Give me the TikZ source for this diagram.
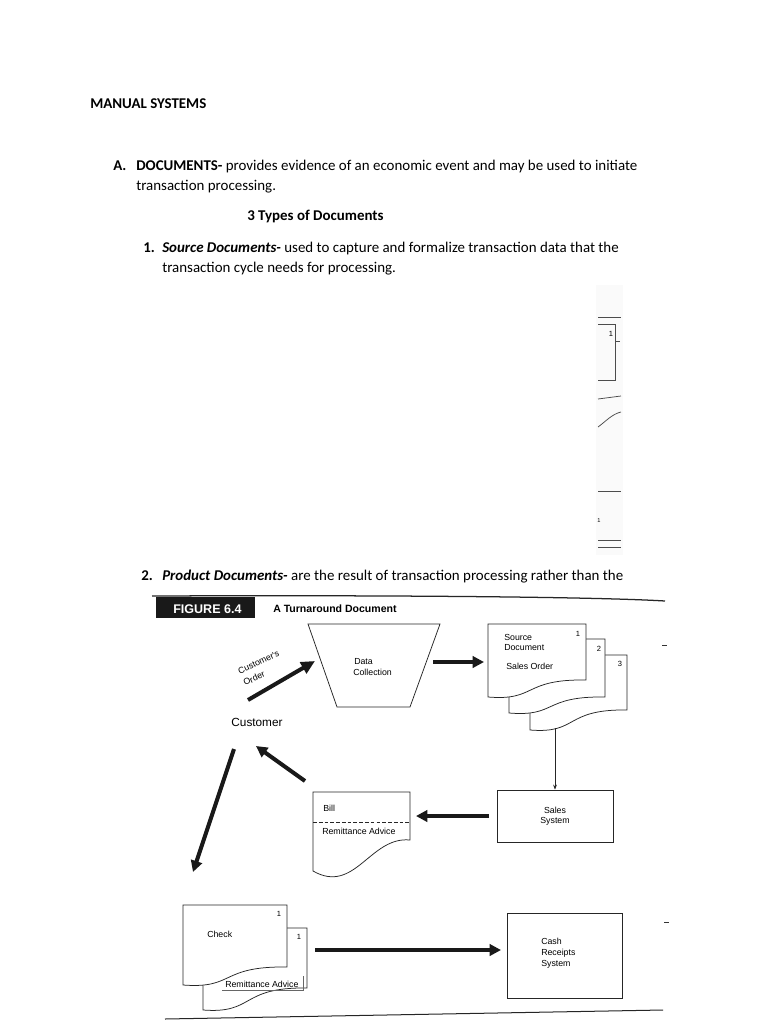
\documentclass[tikz,border=0pt]{standalone}
\usepackage{fontspec}
\setmainfont{Carlito}
\newfontfamily\figfont{Liberation Sans}
\usetikzlibrary{arrows.meta}
\newdimen\pxu \pxu=0.796875pt
% x y w hl hr : document shape with wavy bottom
\newcommand{\mydocshape}[5]{%
  \draw[docline] (#1,{#2+#4}) -- (#1,#2) -- ({#1+#3},#2) -- ({#1+#3},{#2+#5})
    .. controls ({#1+0.35*#3},{#2+#5-1}) and ({#1+0.5*#3},{#2+#4+4}) .. (#1,{#2+#4}) -- cycle;}
\begin{document}
\begin{tikzpicture}[x=0.796875pt,y=-0.796875pt,
  body/.style={anchor=base west, inner sep=0, font=\fontsize{11.9}{14}\selectfont},
  fig/.style={inner sep=0, anchor=base west, font=\figfont\fontsize{7}{8.8}\selectfont},
  fignum/.style={inner sep=0, anchor=base, font=\figfont\fontsize{6}{7}\selectfont},
  docline/.style={draw=black!85, line width=0.6pt, fill=white},
  fat/.style={draw=black!90, line width=3.2pt, -{Triangle[length=9pt,width=9pt]}},
  thinarrow/.style={draw=black!85, line width=0.5pt, -{Stealth[length=4pt,width=3pt]}},
  frag/.style={draw=black!70, line width=0.6pt},
  sysbox/.style={draw=black!85, line width=0.6pt, inner sep=0},
]
\fill[white] (0,0) rectangle (768,1024);
\useasboundingbox (0,0) rectangle (768,1024);

% ---- body text ----
\node[body] (ms) at (90,108) {\textbf{MANUAL SYSTEMS}};
\node[body] (aa) at (113,170.5) {\textbf{A.}};
\node[body] (adoc) at (136,170.5) {\textbf{DOCUMENTS-} provides evidence of an economic event and may be used to initiate};
\node[body] (adoc2) at (136,190) {transaction processing.};
\node[body] (types) at (247,220.5) {\textbf{3 Types of Documents}};
\node[body] (n1) at (143,252) {\textbf{1.}};
\node[body] (src) at (162,252) {\textbf{\itshape Source Documents-} used to capture and formalize transaction data that the};
\node[body] (src2) at (162,272) {transaction cycle needs for processing.};
\node[body] (n2) at (141,580) {\textbf{2.}};
\node[body] (prod) at (162,580) {\textbf{\itshape Product Documents-} are the result of transaction processing rather than the};

% ---- right edge fragments ----
\fill[black!2] (596,285) rectangle (623,555);
\draw[frag] (598,317.5) -- (621,317.5);
\draw[frag] (598,324) -- (615,324) -- (615,380) -- (598,380);
\draw[frag] (615,341) -- (620,341);
\node[fignum] (fr1) at (611,336) {1};
\draw[frag] (598,399) -- (621,396);
\draw[frag] (598,427) .. controls (605,422) and (612,414) .. (621,412);
\draw[frag] (598,491) -- (621,491);
\node[fignum, font=\figfont\fontsize{4.5}{5}\selectfont] (fr2) at (599,522) {1};
\draw[frag] (598,540) -- (621,540);
\draw[frag] (598,547) -- (621,547);

% ---- figure header ----
\draw[black!85, line width=1pt] (152,596) .. controls (400,595) and (600,597) .. (665,601);
\node[fill=black!90, minimum width=99\pxu, minimum height=21\pxu, anchor=north west, inner sep=0] (figbox) at (156,597) {};
\node[anchor=base west, inner sep=0, text=white, font=\figfont\bfseries\fontsize{10}{12}\selectfont] (figlbl) at (173,613) {FIGURE 6.4};
\node[anchor=base west, inner sep=0, font=\figfont\bfseries\fontsize{8.4}{10}\selectfont] (figttl) at (273,612) {A Turnaround Document};

% ---- data collection ----
\draw[docline] (308,624) -- (440,624) -- (410,707) -- (337,707) -- cycle;
\node[fig] (dc1) at (354,664) {Data};
\node[fig] (dc2) at (353,675) {Collection};

% customer's order
\coordinate (coT) at (248,700);
\coordinate (coH) at (315,661);
\draw[fat, -{Triangle[length=11pt,width=10pt]}] (coT) -- (coH);
\node[fig, rotate=25, align=left, font=\figfont\fontsize{7}{10}\selectfont] (colbl) at (245,686) {Customer's\\Order};

\node[anchor=base, inner sep=0, font=\figfont\fontsize{9.4}{11}\selectfont] (cust) at (257,726.5) {Customer};

% arrow to source document
\coordinate (dcR) at (433,662);
\coordinate (sdL) at (484,662);
\draw[fat] (dcR) -- (sdL);

% source document stack
\mydocshape{530}{655}{97}{75}{55}
\mydocshape{509}{639}{96}{74}{58}
\mydocshape{488}{624}{98}{73}{56}
\node[fig] (sdtxt1) at (504,640.5) {Source};
\node[fig] (sdtxt2) at (504,650.5) {Document};
\node[fig] (sotxt) at (506,669.5) {Sales Order};
\node[fignum] (sd1) at (578,636.5) {1};
\node[fignum] (sd2) at (599,651.5) {2};
\node[fignum] (sd3) at (620,666.5) {3};

% sales system
\node[sysbox, minimum width=116\pxu, minimum height=52\pxu] (sales) at (555,816) {};
\node[fig, anchor=base] (salestxt1) at (555,813) {Sales};
\node[fig, anchor=base] (salestxt2) at (555,823.5) {System};
\coordinate (sdB) at (555,728);
\draw[thinarrow] (sdB) -- (sales.north);

% sales -> bill
\coordinate (saT) at (489,816);
\coordinate (biH) at (416,816);
\draw[fat] (saT) -- (biH);

% bill
\draw[docline] (313,871) -- (313,792) -- (410,792) -- (410,840)
  .. controls (370,836) and (355,895) .. (313,871) -- cycle;
\draw[black!85, line width=0.6pt, dash pattern=on 3pt off 1.6pt] (313,822) -- (410,822);
\node[fig] (billtxt) at (323,811) {Bill};
\node[fig] (remtxt) at (322,834) {Remittance Advice};

% bill -> customer, customer -> check
\coordinate (bcT) at (305,781);
\coordinate (bcH) at (256,746);
\draw[fat] (bcT) -- (bcH);
\coordinate (ccT) at (234,749);
\coordinate (ccH) at (193,872);
\draw[fat] (ccT) -- (ccH);

% check documents
\mydocshape{203}{928}{104}{82}{60}
\mydocshape{183}{905}{104}{80}{62}
\node[fig] (chktxt) at (207,937) {Check};
\node[fignum] (ck1) at (279,916) {1};
\node[fignum] (ck2) at (299,939) {1};
\node[fig] (rem2txt) at (225,987) {Remittance Advice};
\draw[black!60, line width=0.5pt] (222,990) -- (303,990) -- (303,976);

% check -> cash receipts
\coordinate (chT) at (315,950);
\coordinate (crH) at (501,950);
\draw[fat] (chT) -- (crH);
\node[sysbox, minimum width=115\pxu, minimum height=85\pxu] (cash) at (564.5,955.5) {};
\node[fig] (cashtxt1) at (541,944) {Cash};
\node[fig] (cashtxt2) at (541,955) {Receipts};
\node[fig] (cashtxt3) at (541,966) {System};

% bottom rule and stray marks
\draw[black!85, line width=0.8pt] (165,1019) -- (663,1010);
\draw[black!80, line width=0.6pt] (662,645) -- (667,645);
\draw[black!80, line width=0.6pt] (664,922) -- (669,922);
\end{tikzpicture}
\end{document}
